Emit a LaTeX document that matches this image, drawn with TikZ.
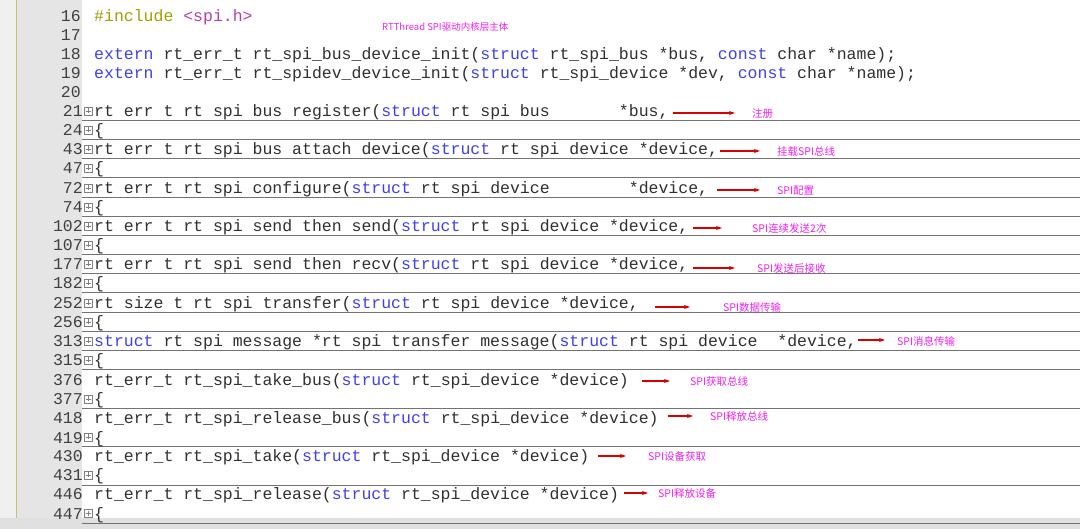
\documentclass[tikz,border=0pt]{standalone}
\usepackage{fontspec}
\usetikzlibrary{arrows.meta}
\setmonofont{Liberation Mono}
\newfontfamily\cjk{Noto Sans CJK SC}
\definecolor{kw}{HTML}{4040F0}
\definecolor{txt}{HTML}{303030}
\definecolor{mag}{HTML}{F020F0}
\definecolor{inc}{HTML}{A0A000}
\definecolor{incs}{HTML}{B040B0}
\newcommand{\kw}[1]{\textcolor{kw}{#1}}
\begin{document}
\begin{tikzpicture}[x=1pt,y=-1pt,
 code/.style={anchor=base west,inner sep=0,font=\fontsize{16.5}{18}\ttfamily,text=txt},
 lnum/.style={anchor=base east,inner sep=0,font=\fontsize{16.5}{18}\ttfamily,text=black!75},
 lab/.style={anchor=west,inner sep=0,font=\fontsize{10.5}{12}\cjk,text=mag},
 arr/.style={draw=red!85!black,line width=1.2pt,-{Stealth[length=6pt,width=4pt]}},
 sep/.style={draw=black!55,line width=1pt},
 fold/.style={draw=black!50,line width=0.5pt,fill=white}]
\useasboundingbox (0,0) rectangle (1080,529);
\fill[black!6] (0,0) rectangle (1080,529);
\fill[white] (82,0) rectangle (1080,518);
\fill[black!10] (16,0) rectangle (82,529);
\draw[inc!60,line width=1pt] (16,0) -- (16,529);
\fill[black!12] (0,518) rectangle (1080,529);
% rows
\newcommand{\row}[3]{\node[lnum] at (81,#1+6) {#2}; \node[code] at (94,#1+6) {#3};}
\newcommand{\foldbox}[1]{\draw[fold] (84,#1-4) rectangle (92,#1+4); \draw[black!50,line width=0.5pt] (85.5,#1)--(90.5,#1) (88,#1-2.5)--(88,#1+2.5);}
\node[lnum] at (81,-3) {15};
\row{16}{16}{\textcolor{inc}{\#include} \textcolor{incs}{<spi.h>}}
\row{35}{17}{}
\row{54}{18}{\kw{extern} rt\_err\_t rt\_spi\_bus\_device\_init(\kw{struct} rt\_spi\_bus *bus, \kw{const} char *name);}
\row{73}{19}{\kw{extern} rt\_err\_t rt\_spidev\_device\_init(\kw{struct} rt\_spi\_device *dev, \kw{const} char *name);}
\row{92}{20}{}
\node[lab,font=\fontsize{9.5}{11}\cjk] (title) at (382,27) {RTThread SPI驱动内核层主体};
% folded rows
\foreach \y/\a/\b in {111/21/24,149/43/47,188/72/74,226/102/107,264/177/182,303/252/256,341/313/315}{
 \draw[sep] (82,\y+10) -- (1080,\y+10);
 \draw[sep] (82,\y+29) -- (1080,\y+29);
 \foldbox{\y} \foldbox{\y+19}
 \node[lnum] at (83,\y+6) {\a};
 \node[lnum] at (83,\y+25) {\b};
 \node[code] at (94,\y+25) {\{};
}
\foreach \y/\a/\b in {380/376/377,418/418/419,456/430/431,494/446/447}{
 \draw[sep] (82,\y+29) -- (1080,\y+29);
 \foldbox{\y+19}
 \node[lnum] at (83,\y+6) {\a};
 \node[lnum] at (83,\y+25) {\b};
 \node[code] at (94,\y+25) {\{};
}
\node[code] at (94,117) {rt err t rt spi bus register(\kw{struct} rt spi bus~~~~~~~*bus,};
\node[code] at (94,155) {rt err t rt spi bus attach device(\kw{struct} rt spi device *device,};
\node[code] at (94,194) {rt err t rt spi configure(\kw{struct} rt spi device~~~~~~~~*device,};
\node[code] at (94,232) {rt err t rt spi send then send(\kw{struct} rt spi device *device,};
\node[code] at (94,270) {rt err t rt spi send then recv(\kw{struct} rt spi device *device,};
\node[code] at (94,309) {rt size t rt spi transfer(\kw{struct} rt spi device *device,};
\node[code] at (94,347) {\kw{struct} rt spi message *rt spi transfer message(\kw{struct} rt spi device~~*device,};
\node[code] at (94,386) {rt\_err\_t rt\_spi\_take\_bus(\kw{struct} rt\_spi\_device *device)};
\node[code] at (94,424) {rt\_err\_t rt\_spi\_release\_bus(\kw{struct} rt\_spi\_device *device)};
\node[code] at (94,462) {rt\_err\_t rt\_spi\_take(\kw{struct} rt\_spi\_device *device)};
\node[code] at (94,500) {rt\_err\_t rt\_spi\_release(\kw{struct} rt\_spi\_device *device)};
% arrows and labels
\foreach \y/\s/\e/\l/\t [count=\i] in {113/673/735/752/注册,151/720/760/777/挂载SPI总线,190/717/760/777/SPI配置,228/693/722/752/SPI连续发送2次,268/693/735/757/SPI发送后接收,307/655/690/723/SPI数据传输,340/858/885/897/SPI消息传输,381/642/670/690/SPI获取总线,416/668/693/710/SPI释放总线,456/598/626/648/SPI设备获取,493/624/648/658/SPI释放设备}{
 \coordinate (s\i) at (\s,\y);
 \node[lab] (l\i) at (\l,\y+1) {\t};
 \draw[arr] (s\i) -- (\e,\y);
}
\end{tikzpicture}
\end{document}
